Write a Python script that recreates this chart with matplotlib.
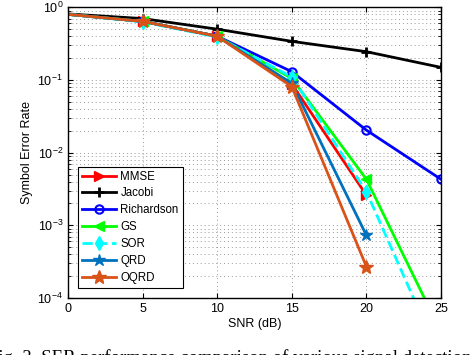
import numpy as np
import matplotlib
matplotlib.use("Agg")
import matplotlib.pyplot as plt

snr = [0, 5, 10, 15, 20, 25]
snr20 = [0, 5, 10, 15, 20]
mmse = [0.80, 0.64, 0.40, 0.088, 0.0026]
jacobi = [0.81, 0.70, 0.50, 0.34, 0.245, 0.149]
richardson = [0.80, 0.64, 0.40, 0.13, 0.0204, 0.0043]
gs = [0.80, 0.64, 0.40, 0.105, 0.0043, 0.000034]
sor = [0.80, 0.63, 0.39, 0.11, 0.0029, 0.000014]
qrd = [0.80, 0.64, 0.40, 0.09, 0.00073]
oqrd = [0.80, 0.64, 0.40, 0.081, 0.00027]

plt.rcParams['font.family'] = ['Liberation Sans', 'DejaVu Sans']
fig = plt.figure(figsize=(4.74, 3.55), dpi=100)
ax = fig.add_axes([68/474, 1-298/355, (441-68)/474, (298-7.3)/355])

lw = 2.0
me = slice(1, None)
ax.plot(snr20, mmse, color='#ff0000', marker='>', ms=7, lw=lw, markevery=me, label='MMSE')
ax.plot(snr, jacobi, color='black', marker='+', ms=7, mew=2, lw=lw, markevery=me, label='Jacobi')
ax.plot(snr, richardson, color='#0000ff', marker='o', ms=6, mfc='none', mew=1.5, lw=lw,
        markevery=me, label='Richardson')
ax.plot(snr, gs, color='#00ff00', marker='<', ms=7, lw=lw, markevery=me, label='GS')
ax.plot(snr, sor, color='#00ffff', marker='d', ms=7, lw=lw, ls='--', markevery=me, label='SOR')
ax.plot(snr20, qrd, color='#0072bd', marker='*', ms=9, lw=lw, markevery=me, label='QRD')
ax.plot(snr20, oqrd, color='#d95319', marker='*', ms=10, lw=lw, markevery=me, label='OQRD')

ax.set_yscale('log')
ax.set_xlim(0, 25)
ax.set_ylim(1e-4, 1)
ax.set_xticks([0, 5, 10, 15, 20, 25])
ax.grid(True, which='major', ls=(0, (1, 3)), color='#999999', lw=0.7)
ax.grid(True, which='minor', ls=(0, (1, 3)), color='#999999', lw=0.7)
ax.tick_params(which='both', direction='in', labelsize=9, top=True, right=True)
ax.set_xlabel('SNR (dB)', fontsize=9, labelpad=2)
ax.set_ylabel('Symbol Error Rate', fontsize=9, labelpad=3)
for s in ax.spines.values():
    s.set_linewidth(1.0)

leg = ax.legend(loc='lower left', fontsize=8.3, fancybox=False, edgecolor='black',
                framealpha=1, borderaxespad=0.9, handlelength=2.9, labelspacing=0.42,
                handletextpad=0.4, borderpad=0.35)
leg.get_frame().set_linewidth(0.8)

fig.text(-12/474, -8/355, 'Fig. 3. SER performance comparison of various signal detection',
         family='Liberation Serif', fontsize=13.5, ha='left', va='baseline')

fig.savefig('out.png', dpi=100)
